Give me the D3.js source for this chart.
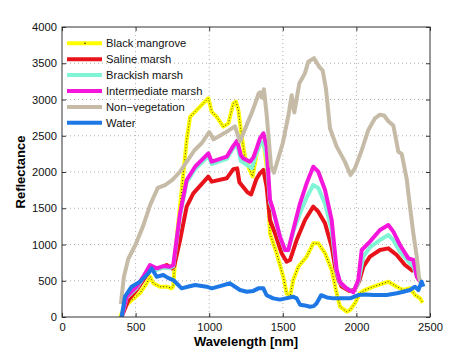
<!DOCTYPE html>
<html><head><meta charset="utf-8">
<script src="https://cdn.jsdelivr.net/npm/d3@7"></script>
<style>body{margin:0;background:#fff}svg{display:block}text{font-family:"Liberation Sans",Arial,sans-serif}</style>
</head><body><svg id="c" width="474" height="356"></svg>
<script>
const xTicks = [0, 500, 1000, 1500, 2000, 2500];
const yTicks = [0, 500, 1000, 1500, 2000, 2500, 3000, 3500, 4000];
const seriesNames = ["Black mangrove", "Saline marsh", "Brackish marsh", "Intermediate marsh", "Non\u2212vegetation", "Water"];

const mangroveWl = [395,420,450,500,530,575,600,620,666,711,745,755,780,813,847,870,915,971,994,1017,1051,1096,1130,1164,1182,1198,1221,1243,1270,1295,1330,1370,1395,1413,1458,1503,1526,1549,1571,1605,1662,1707,1741,1787,1832,1866,1889,1934,1957,1990,2024,2058,2115,2217,2274,2319,2364,2398,2432,2450];
const mangroveVal = [0,120,190,280,330,465,556,465,418,418,395,420,1100,1750,2440,2760,2855,2970,3017,2830,2760,2625,2670,2947,2970,2855,2490,2210,2050,1940,2340,2420,2000,1150,880,556,327,280,510,694,832,1017,1017,880,648,327,142,73,97,189,327,372,418,487,418,372,396,303,258,197];

const salineWl = [405,451,507,552,598,666,711,745,762,802,847,892,994,1017,1119,1164,1190,1205,1220,1260,1285,1320,1345,1368,1390,1413,1447,1492,1526,1549,1594,1651,1707,1741,1787,1832,1855,1878,1900,1950,1990,2020,2047,2092,2160,2217,2274,2330,2387];
const salineVal = [0,234,372,510,648,671,717,671,700,1062,1522,1706,1936,1867,1913,2040,2050,1860,1821,1720,1690,1900,1982,2028,1800,1338,1155,879,763,786,1062,1338,1522,1453,1292,970,694,510,420,360,380,500,694,832,924,947,855,717,630];

const brackishWl = [405,439,507,552,598,643,688,734,756,802,847,904,994,1017,1119,1164,1190,1215,1255,1289,1320,1345,1368,1390,1413,1435,1481,1515,1537,1571,1617,1662,1707,1741,1787,1832,1866,1889,1930,1979,2013,2047,2092,2160,2217,2251,2296,2353,2387,2421];
const brackishVal = [0,270,400,540,700,650,680,675,700,1400,1860,2040,2220,2110,2180,2330,2380,2150,2100,2050,2250,2380,2420,2200,1580,1460,1100,920,920,1180,1430,1650,1820,1780,1560,1200,620,470,400,350,480,832,960,1062,1131,1060,901,763,694,510];

const interWl = [405,439,507,552,598,643,688,734,756,802,847,904,994,1017,1119,1164,1190,1215,1232,1277,1300,1323,1345,1368,1390,1413,1435,1481,1515,1537,1571,1617,1662,1707,1741,1787,1832,1866,1889,1930,1979,2013,2036,2092,2160,2217,2251,2296,2353,2387,2410,2432];
const interVal = [0,280,418,556,717,671,703,694,717,1430,1890,2073,2257,2142,2211,2360,2430,2230,2188,2142,2200,2330,2464,2534,2349,1614,1476,1108,924,924,1200,1568,1844,2073,2004,1752,1338,648,480,400,340,510,924,1039,1200,1269,1177,993,809,786,556,487];

const nonvegWl = [400,420,450,500,550,600,650,700,750,800,850,900,950,1000,1030,1107,1175,1209,1255,1290,1315,1335,1345,1355,1372,1390,1420,1440,1500,1540,1560,1578,1612,1650,1673,1712,1748,1771,1793,1821,1866,1920,1960,1990,2036,2081,2126,2160,2188,2217,2251,2285,2308,2342,2364,2387,2410,2425,2445];
const nonvegVal = [180,550,800,1000,1250,1550,1780,1820,1890,2000,2150,2300,2400,2550,2450,2540,2630,2420,2650,2820,2960,3080,3100,3030,3140,2800,2080,1990,2400,2800,3060,2820,3220,3360,3520,3570,3450,3400,3150,2600,2350,2150,1960,2050,2300,2580,2740,2790,2780,2700,2640,2280,2250,1900,1520,1150,830,550,420];

const waterWl = [405,428,473,530,586,609,643,688,720,756,813,860,904,983,1017,1080,1141,1209,1255,1300,1334,1368,1390,1435,1481,1520,1571,1594,1617,1650,1685,1710,1730,1760,1800,1843,1923,1957,2013,2060,2115,2205,2274,2319,2364,2398,2421,2443,2455];
const waterVal = [0,280,418,487,602,671,556,579,540,510,395,420,441,418,395,430,465,372,349,360,395,395,300,257,240,257,280,257,170,160,142,150,189,300,270,257,257,257,303,310,303,303,327,349,372,418,372,487,418];

const series = [
  {name: seriesNames[0], wl: mangroveWl, val: mangroveVal, color: "#ffff00", dotted: true},
  {name: seriesNames[1], wl: salineWl, val: salineVal, color: "#e8121b"},
  {name: seriesNames[2], wl: brackishWl, val: brackishVal, color: "#7ff5d6"},
  {name: seriesNames[3], wl: interWl, val: interVal, color: "#f516dc"},
  {name: seriesNames[4], wl: nonvegWl, val: nonvegVal, color: "#c5bba6"},
  {name: seriesNames[5], wl: waterWl, val: waterVal, color: "#1d78e6"}
];

const svg = d3.select("#c");
const L = 62, R = 430, T = 27, B = 317;
const x = d3.scaleLinear().domain([0, 2500]).range([L, R]);
const y = d3.scaleLinear().domain([0, 4000]).range([B, T]);

// grid
const g = svg.append("g");
g.selectAll("line.vx").data(xTicks.slice(1, -1)).join("line")
  .attr("x1", d => x(d)).attr("x2", d => x(d)).attr("y1", T).attr("y2", B)
  .attr("stroke", "#b0b0b0").attr("stroke-width", 1).attr("stroke-dasharray", "1,3");
g.selectAll("line.hy").data(yTicks.slice(1, -1)).join("line")
  .attr("x1", L).attr("x2", R).attr("y1", d => y(d)).attr("y2", d => y(d))
  .attr("stroke", "#b0b0b0").attr("stroke-width", 1).attr("stroke-dasharray", "1,3");

// lines
svg.append("clipPath").attr("id", "pc").append("rect")
  .attr("x", L).attr("y", T).attr("width", R - L).attr("height", B - T);
const line = d3.line().x(d => x(d[0])).y(d => y(d[1]));
const lg = svg.append("g").attr("clip-path", "url(#pc)");
series.forEach(s => {
  const pts = s.wl.map((w, i) => [w, s.val[i]]);
  lg.append("path").attr("d", line(pts)).attr("fill", "none")
    .attr("stroke", s.color).attr("stroke-width", 4).attr("stroke-linejoin", "round");
  if (s.dotted) {
    lg.append("path").attr("d", line(pts)).attr("fill", "none")
      .attr("stroke", "#222").attr("stroke-width", 0.9).attr("stroke-dasharray", "1,2");
  }
});

// axes
const ax = svg.append("g").attr("transform", `translate(0,${B})`)
  .call(d3.axisBottom(x).tickValues(xTicks).tickSize(-4).tickPadding(6).tickFormat(d3.format("d")));
const ay = svg.append("g").attr("transform", `translate(${L},0)`)
  .call(d3.axisLeft(y).tickValues(yTicks).tickSize(-4).tickPadding(5).tickFormat(d3.format("d")));
const axT = svg.append("g").attr("transform", `translate(0,${T})`)
  .call(d3.axisTop(x).tickValues(xTicks).tickSize(-4).tickFormat(""));
const ayR = svg.append("g").attr("transform", `translate(${R},0)`)
  .call(d3.axisRight(y).tickValues(yTicks).tickSize(-4).tickFormat(""));
[ax, ay, axT, ayR].forEach(a => {
  a.select(".domain").remove();
  a.selectAll("line").attr("stroke", "#333");
  a.selectAll("text").attr("font-size", 11.2).attr("fill", "#111")
    .style("font-family", '"Liberation Sans", Arial, sans-serif');
});
svg.append("rect").attr("x", L).attr("y", T).attr("width", R - L).attr("height", B - T)
  .attr("fill", "none").attr("stroke", "#333").attr("stroke-width", 1);

// labels
svg.append("text").attr("x", (L + R) / 2).attr("y", 346).attr("text-anchor", "middle")
  .attr("font-size", 13).attr("font-weight", "bold").text("Wavelength [nm]");
svg.append("text").attr("transform", `translate(25,${(T + B) / 2}) rotate(-90)`)
  .attr("text-anchor", "middle").attr("font-size", 13).attr("font-weight", "bold").text("Reflectance");

// legend (transparent, grid shows through)
const leg = svg.append("g");
series.forEach((s, i) => {
  const yy = 43.3 + i * 15.9;
  leg.append("line").attr("x1", 67).attr("x2", 102).attr("y1", yy).attr("y2", yy)
    .attr("stroke", s.color).attr("stroke-width", 4);
  if (s.dotted) {
    leg.append("circle").attr("cx", 85).attr("cy", yy).attr("r", 0.8).attr("fill", "#222");
  }
  leg.append("text").attr("x", 106).attr("y", yy + 4).attr("font-size", 11.2).attr("fill", "#111").text(s.name);
});
</script></body></html>
